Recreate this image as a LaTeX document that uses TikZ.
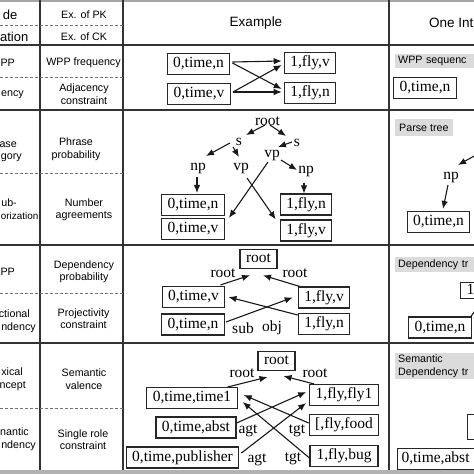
\documentclass[tikz,border=0pt]{standalone}
\usepackage{fontspec}
\setmainfont{Liberation Serif}
\newfontfamily\arialfont{Liberation Sans}
\usetikzlibrary{arrows.meta,calc}
\begin{document}
\begin{tikzpicture}[x=1pt,y=-1pt,
 box/.style={draw=black!85, line width=1.1pt, font=\fontsize{15.5}{18}\selectfont, inner xsep=6pt, inner ysep=0pt, minimum height=21pt, text height=10.8pt, text depth=3pt},
 lbl/.style={font=\fontsize{15.5}{18}\selectfont, inner sep=1pt},
 sans/.style={font=\arialfont\fontsize{10.7}{12.5}\selectfont, align=center, inner sep=0pt},
 head/.style={font=\arialfont\fontsize{13.5}{15}\selectfont, inner sep=0pt},
 part/.style={font=\arialfont\fontsize{10.7}{12.5}\selectfont, anchor=east, inner sep=0pt},
 glab/.style={fill=black!14, font=\arialfont\fontsize{10.7}{12.5}\selectfont, anchor=west, align=left, inner xsep=3pt, inner ysep=2.5pt},
 arr/.style={-{Latex[length=8pt,width=6.5pt]}, line width=1.1pt, draw=black!90},
 solidline/.style={line width=1.3pt, draw=black!80},
 dashline/.style={dash pattern=on 3pt off 2pt, line width=0.8pt, draw=black!55},
]
\useasboundingbox (0,0) rectangle (474,474);
\clip (0,0) rectangle (474,474);
\fill[white] (0,0) rectangle (474,474);
% frame
\fill[black!35] (0,0) rectangle (474,1.5);
\fill[black!30] (0,470) rectangle (474,474);
\foreach \y in {45,110,245,343} \draw[solidline] (0,\y) -- (474,\y);
\foreach \x in {40,123,389} \draw[solidline] (\x,0) -- (\x,470);
\foreach \y in {25,77,173,293,408} \draw[dashline] (0,\y) -- (123,\y);

% left column (cut)
\node[part, font=\arialfont\fontsize{13}{15}\selectfont] (h1) at (17.5,15) {de};
\node[part, font=\arialfont\fontsize{13}{15}\selectfont] (h2) at (28.5,37) {ation};
\node[part] (l1) at (15,63) {PP};
\node[part] (l2) at (24,95) {ency};
\node[part] (l3) at (17,145) {ase};
\node[part] (l4) at (22,158) {gory};
\node[part] (l5) at (17,203) {ub-};
\node[part, font=\arialfont\fontsize{9.9}{12}\selectfont] (l6) at (38.5,216) {orization};
\node[part] (l7) at (15,272) {PP};
\node[part] (l8) at (30,314) {ctional};
\node[part] (l9) at (36,328) {ndency};
\node[part] (l10) at (23,372) {xical};
\node[part] (l11) at (26,386) {ncept};
\node[part] (l12) at (29,432) {nantic};
\node[part] (l13) at (36,446) {ndency};

% second column
\node[sans] (k1) at (84,15) {Ex. of PK};
\node[sans] (k2) at (84,37) {Ex. of CK};
\node[sans] (k3) at (83.5,63) {WPP frequency};
\node[sans] (k4) at (84,94) {Adjacency\\constraint};
\node[sans] (k5) at (76,149) {Phrase\\probability};
\node[sans] (k6) at (84,209.5) {Number\\agreements};
\node[sans] (k7) at (84,271.5) {Dependency\\probability};
\node[sans] (k8) at (83.5,318.5) {Projectivity\\constraint};
\node[sans] (k9) at (84,379) {Semantic\\valence};
\node[sans] (k10) at (83,439.5) {Single role\\constraint};

% headers
\node[head] (ex) at (256,23) {Example};
\node[head, anchor=west] (oi) at (429,23) {One Int};

% Row A example
\node[box] (a1) at (198.5,64) {0,time,n};
\node[box] (a2) at (199,94) {0,time,v};
\node[box] (a3) at (310,63) {1,fly,v};
\node[box] (a4) at (310,93) {1,fly,n};
\draw[arr] ($(a1.east)+(2,-2)$) -- ($(a3.west)+(-2,-2)$);
\draw[arr] ($(a1.east)+(2,-1)$) -- ($(a4.west)+(-2,-4)$);
\draw[arr] ($(a2.east)+(2,-2)$) -- ($(a3.west)+(-2,2)$);
\draw[arr] ($(a2.east)+(2,-2)$) -- ($(a4.west)+(-2,-1)$);

% Row B example
\node[lbl] (r1) at (267.5,121) {root};
\node[lbl] (sL) at (239,142) {s};
\node[lbl] (sR) at (297,143) {s};
\node[lbl] (vpR) at (272,155) {vp};
\node[lbl] (npL) at (198,168) {np};
\node[lbl] (vpL) at (241,168) {vp};
\node[lbl] (npR) at (306,171) {np};
\node[box] (b1) at (193,205) {0,time,n};
\node[box] (b2) at (193,229) {0,time,v};
\node[box] (b3) at (306,204.5) {1,fly,n};
\node[box] (b4) at (306,230.5) {1,fly,v};
\draw[arr] ($(r1)+(-2.5,4)$) -- ($(sL)+(7,-7)$);
\draw[arr] ($(r1)+(2.5,4)$) -- ($(sR)+(-11,-7)$);
\draw[arr] ($(sR)+(-5,-1)$) -- ($(vpR)+(6,-8)$);
\draw[arr] ($(sL)+(-9,1)$) -- ($(npL)+(8,-12)$);
\draw[arr] ($(sL)+(-6,5)$) -- ($(vpL)+(-2,-11)$);
\draw[arr] ($(vpR)+(9,5)$) -- ($(npR)+(-9,-1)$);
\draw[arr] ($(npR)+(-2,12)$) -- ($(b3.north)+(-2,0)$);
\draw[arr] ($(npL)+(-1,9)$) -- ($(b1.north)+(4,-1)$);
\draw[arr] ($(vpL)+(6,10)$) -- ($(b4.north west)+(-4,0)$);
\draw[arr] ($(vpR)+(-4,7)$) -- ($(b2.north east)+(4,0)$);

% Row C example
\node[box, minimum height=19.5pt] (rc) at (258.5,259) {root};
\node[lbl] (rcl) at (223,273) {root};
\node[lbl] (rcr) at (295,273) {root};
\node[box] (c1) at (193.5,297) {0,time,v};
\node[box] (c2) at (193,324.5) {0,time,n};
\node[box] (c3) at (324,297.5) {1,fly,v};
\node[box] (c4) at (324,324) {1,fly,n};
\node[lbl] (sub) at (243,328) {sub};
\node[lbl] (obj) at (272,328) {obj};
\draw[arr] ($(c1.north east)+(-5,-1)$) -- ($(rc.south)+(-8.5,6)$);
\draw[arr] ($(c3.north west)+(2,0)$) -- ($(rc.south)+(4.5,6)$);
\draw[arr] ($(c2.east)+(1,-2.5)$) -- ($(c3.west)+(-5,0)$);
\draw[arr] ($(c4.west)+(0,-9)$) -- ($(c1.east)+(3,0)$);

% Row D example
\node[box, minimum height=19pt] (rd) at (276.5,361) {root};
\node[lbl] (rdl) at (242,373) {root};
\node[lbl] (rdr) at (315,373) {root};
\node[box] (d1) at (192,398) {0,time,time1};
\node[box] (d2) at (196,427.5) {0,time,abst};
\node[box] (d3) at (182.5,457.5) {0,time,publisher};
\node[box, minimum width=68pt] (d4) at (344,395) {1,fly,fly1};
\node[box, minimum width=68pt] (d5) at (344,425) {[,fly,food};
\node[box, minimum width=68pt] (d6) at (344,456) {1,fly,bug};
\node[lbl] (ag1) at (248,431) {agt};
\node[lbl] (ag2) at (257,460) {agt};
\node[lbl] (tg1) at (297,431) {tgt};
\node[lbl] (tg2) at (293,459) {tgt};
\draw[arr] ($(d1.north east)+(-10,0)$) -- ($(rd.south)+(-9,6)$);
\draw[arr] ($(d4.north west)+(5,0)$) -- ($(rd.south)+(7,5)$);
\draw[arr] ($(d2.east)+(0,-4.5)$) -- ($(d4.west)+(-3,-3)$);
\draw[arr] ($(d3.east)+(2,-4.5)$) -- ($(d4.west)+(-3,8)$);
\draw[arr] ($(d5.west)+(0,-2)$) -- ($(d1.east)+(6,-3)$);
\draw[arr] ($(d6.west)+(0,2)$) -- ($(d1.east)+(5,4)$);

% Right column
\node[glab, text width=80pt] (ga) at (395,61) {WPP sequenc};
\node[box] (ra) at (425,88) {0,time,n};
\node[glab, inner xsep=4pt, inner ysep=4.5pt] (gb) at (395,127.5) {Parse tree};
\node[lbl] (rnp) at (451,177) {np};
\node[box] (rb) at (438.5,222) {0,time,n};
\coordinate (rin) at (476,155);
\draw[arr] (rin) -- ($(rnp)+(7,-12)$);
\draw[arr] ($(rnp)+(-3,8)$) -- ($(rb.north)+(4.5,-2)$);
\node[glab, text width=80pt] (gc) at (395,264.5) {Dependency tr};
\node[box, anchor=west, text width=30pt, align=left, minimum height=16pt, text height=10pt, text depth=2pt] (rc1) at (460,290.5) {1};
\node[box] (rc2) at (440,327.5) {0,time,n};
\coordinate (rcout) at (480,304);
\draw[line width=1.1pt, draw=black!90] ($(rc2.north east)+(-1,0)$) -- (rcout);
\node[glab, text width=80pt, inner ysep=2pt] (gd) at (395,366) {Semantic\\Dependency tr};
\node[box, anchor=west, text width=20pt, minimum height=25pt] (rd1) at (467,427) {};
\node[box, anchor=west, text width=90pt, align=left, inner xsep=4pt] (rd2) at (397,459) {0,time,abst};
\end{tikzpicture}
\end{document}
